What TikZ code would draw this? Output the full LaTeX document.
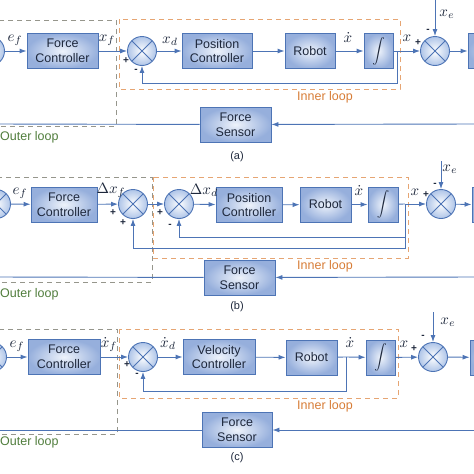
\documentclass[tikz,border=0pt]{standalone}
\usepackage{amsmath,amssymb}
\usepackage{graphicx}
\usepackage{fontspec}
\setmainfont{Liberation Sans}
\usetikzlibrary{arrows.meta}
\definecolor{lineblue}{RGB}{77,116,181}
\definecolor{boxin}{RGB}{238,243,251}
\definecolor{boxout}{RGB}{150,175,220}
\definecolor{sumout}{RGB}{175,197,232}
\definecolor{outergray}{RGB}{150,150,140}
\definecolor{outergreen}{RGB}{80,125,60}
\definecolor{innerorange}{RGB}{230,165,115}
\definecolor{innertext}{RGB}{215,125,55}
\definecolor{txt}{RGB}{30,40,60}
\newcommand{\sig}[1]{\scalebox{1.5}{$#1$}}

\begin{document}
\begin{tikzpicture}[x=1pt,y=-1pt,
  block/.style={draw=lineblue,line width=0.9pt,shading=radial,inner color=boxin,outer color=boxout,
    minimum height=35pt,align=center,text=txt,font=\fontsize{12.5}{14.7}\selectfont,inner sep=0pt},
  sumj/.style={circle,draw=lineblue,line width=0.9pt,shading=radial,inner color=white,outer color=sumout,
    minimum size=29pt,inner sep=0pt,
    path picture={\draw[lineblue,line width=0.9pt] (path picture bounding box.north west) -- (path picture bounding box.south east)
      (path picture bounding box.north east) -- (path picture bounding box.south west);}},
  sigarr/.style={lineblue,line width=0.9pt,-{Latex[length=7pt,width=5pt]}},
  wire/.style={lineblue,line width=0.9pt},
  lbl/.style={text=txt,inner sep=0pt,anchor=south},
  sgn/.style={text=txt,font=\fontsize{10}{11}\selectfont\bfseries,inner sep=0pt},
  outerbox/.style={outergray,line width=0.8pt,dash pattern=on 5pt off 4pt},
  innerbox/.style={innerorange,line width=0.8pt,dash pattern=on 5pt off 4pt},
  captxt/.style={text=txt,font=\fontsize{11}{12}\selectfont,inner sep=0pt},
  innerlbl/.style={text=innertext,font=\fontsize{12.5}{14}\selectfont,inner sep=0pt},
  outerlbl/.style={text=outergreen,font=\fontsize{12.5}{14}\selectfont,inner sep=0pt,anchor=west}]
\useasboundingbox (0,0) rectangle (474,474);
\clip (0,0) rectangle (474,474);

% ---------------- (a) ----------------
\draw[outerbox] (-10,20) rectangle (116,126);
\draw[innerbox] (119,19) rectangle (400,89);
\node[sumj] (s0a) at (-10,51) {};
\node[block,minimum width=71pt] (fca) at (62.5,51) {Force\\Controller};
\node[sumj] (s1a) at (142,51) {};
\node[block,minimum width=70pt] (pca) at (217,51) {Position\\Controller};
\node[block,minimum width=50pt] (roba) at (310,51) {Robot};
\node[block,minimum width=29pt] (inta) at (378.5,51) {$\displaystyle\int$};
\coordinate (ba) at (397,51);
\node[sumj] (s2a) at (435,51) {};
\node[block,minimum width=70pt] (outa) at (503,51) {};
\node[block,minimum width=71pt] (fsa) at (235.5,124.5) {Force\\Sensor};
\coordinate (xea) at (435,0);
\coordinate (ra) at (480,124);
\coordinate (la) at (-10,124);
\draw[sigarr] (s0a) -- (fca);
\draw[sigarr] (fca) -- (s1a);
\draw[sigarr] (s1a) -- (pca);
\draw[sigarr] (pca) -- (roba);
\draw[sigarr] (roba) -- (inta);
\draw[wire] (inta) -- (ba);
\draw[sigarr] (ba) -- (s2a);
\draw[sigarr] (ba) -- ++(0,32) -| (s1a);
\draw[sigarr] (xea) -- (s2a);
\draw[sigarr] (s2a) -- (outa);
\draw[sigarr] (ra) -- (fsa);
\draw[wire] (fsa) -- (la);
\node[lbl] (efa) at (15,46) {\sig{e_f}};
\node[lbl] (xfa) at (107,46) {\sig{x_f}};
\node[lbl] (xda) at (170,46) {\sig{x_d}};
\node[lbl] (xdota) at (348,43) {\sig{\dot{x}}};
\node[lbl] (xa) at (407,42) {\sig{x}};
\node[lbl] (xela) at (447,19) {\sig{x_e}};
\node[sgn] (p1a) at (126,61) {+};
\node[sgn] (m1a) at (136,71) {-};
\node[sgn] (p2a) at (418,43) {+};
\node[sgn] (m2a) at (428,31) {-};
\node[innerlbl] (ila) at (325,97) {Inner loop};
\node[outerlbl] (ola) at (0,137) {Outer loop};
\node[captxt] (capa) at (237,157) {(a)};

% ---------------- (b) ----------------
\draw[outerbox] (-10,177) rectangle (152,282);
\draw[innerbox] (153,177) rectangle (408,258);
\node[sumj] (s0b) at (-4,204) {};
\node[block,minimum width=66pt] (fcb) at (64,204.5) {Force\\Controller};
\node[sumj] (s1b) at (133,204) {};
\node[sumj] (s2b) at (179,204) {};
\node[block,minimum width=66pt] (pcb) at (249,205) {Position\\Controller};
\node[block,minimum width=51pt] (robb) at (325.5,204.5) {Robot};
\node[block,minimum width=30pt] (intb) at (383,204.5) {$\displaystyle\int$};
\coordinate (bb) at (405,204);
\node[sumj] (s3b) at (441,204) {};
\node[block,minimum width=70pt] (outb) at (507,205) {};
\node[block,minimum width=71pt] (fsb) at (239.5,277.5) {Force\\Sensor};
\coordinate (xeb) at (441,161);
\coordinate (rb) at (480,277);
\coordinate (lb) at (-10,277);
\draw[sigarr] (s0b) -- (fcb);
\draw[sigarr] (fcb) -- (s1b);
\draw[sigarr] (s1b) -- (s2b);
\draw[sigarr] (s2b) -- (pcb);
\draw[sigarr] (pcb) -- (robb);
\draw[sigarr] (robb) -- (intb);
\draw[wire] (intb) -- (bb);
\draw[sigarr] (bb) -- (s3b);
\draw[sigarr] (bb) -- ++(0,33) -| (s2b);
\draw[sigarr] (bb) -- ++(0,44) -| (s1b);
\draw[sigarr] (xeb) -- (s3b);
\draw[sigarr] (s3b) -- (outb);
\draw[sigarr] (rb) -- (fsb);
\draw[wire] (fsb) -- (lb);
\node[lbl] (efb) at (20,199) {\sig{e_f}};
\node[lbl] (xfb) at (111,198) {\sig{\Delta x_f}};
\node[lbl] (xdb) at (204,197) {\sig{\Delta x_d}};
\node[lbl] (xdotb) at (359,196) {\sig{\dot{x}}};
\node[lbl] (xb) at (415,196) {\sig{x}};
\node[lbl] (xelb) at (450,174) {\sig{x_e}};
\node[sgn] (p1b) at (113,213) {+};
\node[sgn] (p2b) at (123,223) {+};
\node[sgn] (p3b) at (160,213) {+};
\node[sgn] (m1b) at (170,226) {-};
\node[sgn] (p4b) at (426,195) {+};
\node[sgn] (m2b) at (435,185) {-};
\node[innerlbl] (ilb) at (325,266) {Inner loop};
\node[outerlbl] (olb) at (0,294) {Outer loop};
\node[captxt] (capb) at (237,307) {(b)};

% ---------------- (c) ----------------
\draw[outerbox] (-10,329) rectangle (117,434);
\draw[innerbox] (119,329) rectangle (398,398);
\node[sumj] (s0c) at (-8,357) {};
\node[block,minimum width=72pt] (fcc) at (64,357) {Force\\Controller};
\node[sumj] (s1c) at (143,357) {};
\node[block,minimum width=72pt] (vcc) at (219,357) {Velocity\\Controller};
\node[block,minimum width=51pt] (robc) at (311.5,357.5) {Robot};
\coordinate (bc) at (346,357);
\node[block,minimum width=29pt] (intc) at (380.5,357.5) {$\displaystyle\int$};
\node[sumj] (s2c) at (433,357) {};
\node[block,minimum width=70pt] (outc) at (505,357.5) {};
\node[block,minimum width=70pt] (fsc) at (237,430) {Force\\Sensor};
\coordinate (xec) at (433,312);
\coordinate (rc) at (480,430);
\coordinate (lc) at (-10,430);
\draw[sigarr] (s0c) -- (fcc);
\draw[sigarr] (fcc) -- (s1c);
\draw[sigarr] (s1c) -- (vcc);
\draw[sigarr] (vcc) -- (robc);
\draw[wire] (robc) -- (bc);
\draw[sigarr] (bc) -- (intc);
\draw[sigarr] (bc) -- ++(0,34) -| (s1c);
\draw[sigarr] (intc) -- (s2c);
\draw[sigarr] (xec) -- (s2c);
\draw[sigarr] (s2c) -- (outc);
\draw[sigarr] (rc) -- (fsc);
\draw[wire] (fsc) -- (lc);
\node[lbl] (efc) at (17,352) {\sig{e_f}};
\node[lbl] (xfc) at (109,352) {\sig{\dot{x}_f}};
\node[lbl] (xdc) at (168,350) {\sig{\dot{x}_d}};
\node[lbl] (xdotc) at (350,348) {\sig{\dot{x}}};
\node[lbl] (xc) at (404,348) {\sig{x}};
\node[lbl] (xelc) at (448,327) {\sig{x_e}};
\node[sgn] (p1c) at (127,365) {+};
\node[sgn] (m1c) at (137,375) {-};
\node[sgn] (p2c) at (414,349) {+};
\node[sgn] (m2c) at (423,337) {-};
\node[innerlbl] (ilc) at (325,406) {Inner loop};
\node[outerlbl] (olc) at (0,442) {Outer loop};
\node[captxt] (capc) at (237,458) {(c)};
\end{tikzpicture}
\end{document}
